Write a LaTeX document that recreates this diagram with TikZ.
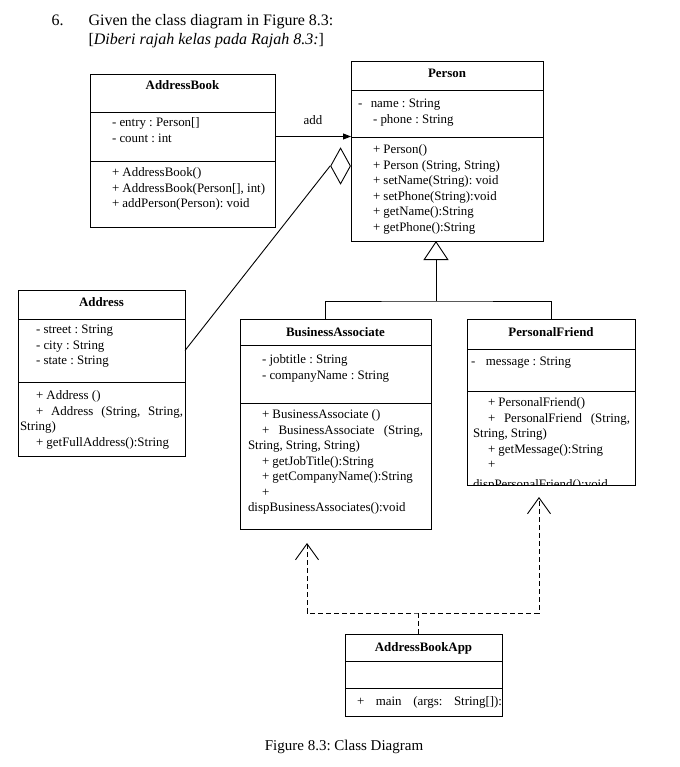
\documentclass[tikz,border=0pt]{standalone}
\usepackage{fontspec}
\setmainfont{Liberation Serif}
\usetikzlibrary{positioning,arrows.meta,shapes.geometric}
\frenchspacing

\newcommand{\umlfont}{\fontsize{12.9}{15.5}\selectfont}
% width, height, top gap, lines
\newcommand{\umlpart}[4]{\parbox[c][#2pt][t]{#1pt}{\vspace*{#3pt}\strut#4}}

\tikzset{
  classpart/.style={draw, line width=0.9pt, inner sep=0pt, outer sep=0pt, font=\umlfont},
  assoc/.style={line width=0.9pt},
  depends/.style={line width=0.9pt, dash pattern=on 5pt off 3pt},
}

\begin{document}
\begin{tikzpicture}[x=1pt, y=-1pt]
\useasboundingbox[fill=white] (0,0) rectangle (679,767);

\node[anchor=base west, font=\fontsize{16}{19}\selectfont] (qnum) at (48,26) {6.};
\node[anchor=base west, font=\fontsize{16}{19}\selectfont] (qline) at (85,26) {Given the class diagram in Figure 8.3:};
\node[anchor=base west, font=\fontsize{16}{19}\selectfont] (qtrans) at (85,45) {[\textit{Diberi rajah kelas pada Rajah 8.3:}]};

% AddressBook
\node[classpart, anchor=north west] (book) at (90,74) {\umlpart{185}{38}{4.8}{\centering\bfseries AddressBook}};
\node[classpart, below=0pt of book] (book-attr) {\umlpart{185}{49}{3.8}{\leftskip=22pt\relax
  - entry : Person[]\\
  - count : int}};
\node[classpart, below=0pt of book-attr] (book-ops) {\umlpart{185}{66}{4.8}{\leftskip=22pt\relax
  + AddressBook()\\
  + AddressBook(Person[], int)\\
  + addPerson(Person): void}};

% Person
\node[classpart, anchor=north west] (person) at (351,61) {\umlpart{192}{29}{5.8}{\centering\bfseries Person}};
\node[classpart, below=0pt of person] (person-attr) {\umlpart{192}{47}{6.8}{\leftskip=7pt\relax
  -\hspace{8.5pt}name : String\\
  \hspace*{15pt}- phone : String}};
\node[classpart, below=0pt of person-attr] (person-ops) {\umlpart{192}{104}{5.8}{\leftskip=22pt\relax
  + Person()\\
  + Person (String, String)\\
  + setName(String): void\\
  + setPhone(String):void\\
  + getName():String\\
  + getPhone():String}};

% Address
\node[classpart, anchor=north west] (address) at (18,290) {\umlpart{167}{29}{5.8}{\centering\bfseries Address}};
\node[classpart, below=0pt of address] (address-attr) {\umlpart{167}{63}{3.8}{\leftskip=18pt\relax
  - street : String\\
  - city : String\\
  - state : String}};
\node[classpart, below=0pt of address-attr] (address-ops) {\umlpart{167}{74}{6.8}{\leftskip=18pt\relax
  + Address ()\\
  \makebox[147pt][s]{+ Address (String, String,}\\
  \hspace*{-16pt}String)\\
  + getFullAddress():String}};

% BusinessAssociate
\node[classpart, anchor=north west] (biz) at (240,319) {\umlpart{191}{26}{6.8}{\centering\bfseries BusinessAssociate}};
\node[classpart, below=0pt of biz] (biz-attr) {\umlpart{191}{58}{7.8}{\leftskip=22pt\relax
  - jobtitle : String\\
  - companyName : String}};
\node[classpart, below=0pt of biz-attr] (biz-ops) {\umlpart{191}{126}{4.8}{\leftskip=22pt\relax
  + BusinessAssociate ()\\
  \makebox[161pt][s]{+ BusinessAssociate (String,}\\
  \hspace*{-14pt}String, String, String)\\
  + getJobTitle():String\\
  + getCompanyName():String\\
  +\\
  \hspace*{-14pt}dispBusinessAssociates():void}};

% PersonalFriend
\node[classpart, anchor=north west] (friend) at (467,319) {\umlpart{168}{30}{6.8}{\centering\bfseries PersonalFriend}};
\node[classpart, below=0pt of friend] (friend-attr) {\umlpart{168}{42}{5.8}{\leftskip=4pt\relax
  -\hspace{10.5pt}message : String}};
\begin{scope}
  \clip (467,391) rectangle (635,485);
  \node[classpart, below=0pt of friend-attr] (friend-ops) {\umlpart{168}{94}{4.8}{\leftskip=21pt\relax
    + PersonalFriend()\\
    \makebox[142pt][s]{+ PersonalFriend (String,}\\
    \hspace*{-15pt}String, String)\\
    + getMessage():String\\
    +\\[4pt]
    \hspace*{-15pt}dispPersonalFriend():void}};
\end{scope}
\draw[assoc] (friend-ops.north west) rectangle (friend-ops.south east);

% AddressBookApp
\node[classpart, anchor=north west] (app) at (345,634) {\umlpart{157}{27}{6.8}{\centering\bfseries AddressBookApp}};
\node[classpart, below=0pt of app] (app-attr) {\umlpart{157}{27}{0}{}};
\node[classpart, below=0pt of app-attr] (app-ops) {\umlpart{157}{28}{6.8}{\leftskip=12pt\relax
  \makebox[145pt][s]{+ main (args: String[]):}}};

% add association
\draw[assoc, -{Triangle[length=8pt,width=6pt]}] (book-attr.east) -- (book-attr.east -| person.west)
  node[midway, above=11pt, inner sep=0pt, font=\umlfont] (addlabel) {add};

% aggregation
\node[diamond, draw, fill=white, line width=0.9pt, inner sep=0pt, minimum width=20pt, minimum height=36pt, anchor=east] (agg) at (351,166) {};
\draw[assoc] (address-attr.east) -- (agg.west);

% generalisation
\coordinate (apex) at ([xshift=-11pt]person-ops.south);
\coordinate (fork) at (apex |- 0,301);
\draw[assoc, -{Triangle[open, length=19pt, width=25pt]}] (fork) -- (apex);
\draw[assoc] ([xshift=-10.5pt]biz.north) |- (fork) -| (friend.north);

% dependencies
\coordinate (bizdep) at (307,543);
\coordinate (frienddep) at (539,497);
\coordinate (split) at (418,613);
\draw[depends] (split) -- ([xshift=-5.5pt]app.north);
\draw[depends, {Straight Barb[length=16pt,width=23pt]}-{Straight Barb[length=16pt,width=23pt]}] (bizdep) |- (split) -| (frienddep);

\node[anchor=base, font=\fontsize{15}{18}\selectfont] (caption) at (344,750) {Figure 8.3: Class Diagram};
\end{tikzpicture}
\end{document}
